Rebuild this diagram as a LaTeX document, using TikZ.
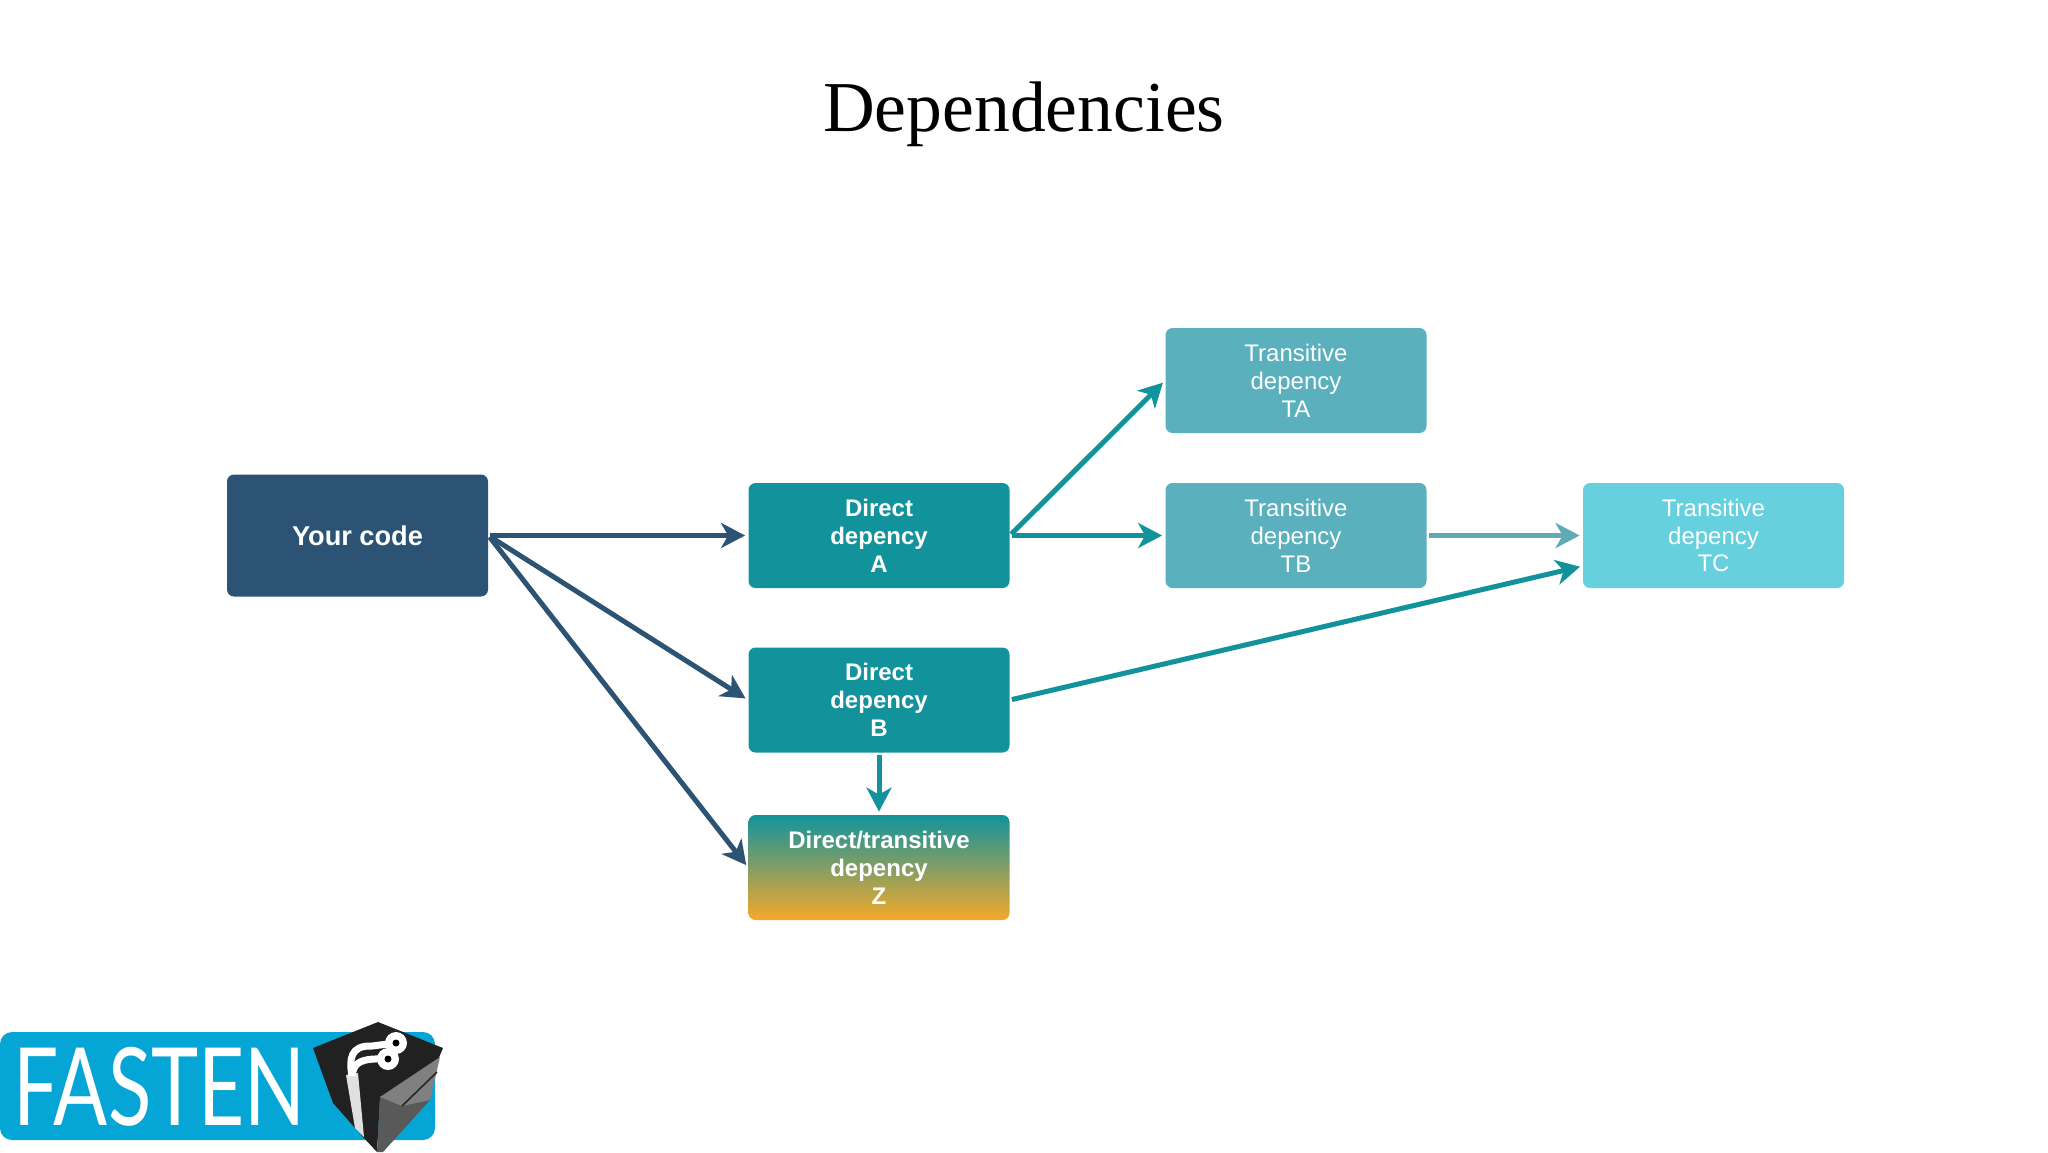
\documentclass[tikz,border=0pt]{standalone}
\usepackage{fontspec}
\usetikzlibrary{arrows.meta}
\setmainfont{Liberation Serif}
\newfontfamily\boxfont{Liberation Sans}
\newfontfamily\logofont{Lato}
\definecolor{codeblue}{HTML}{2C5373}
\definecolor{directteal}{HTML}{12939C}
\definecolor{transteal}{HTML}{5AB0BC}
\definecolor{lastteal}{HTML}{66D0DE}
\definecolor{zorange}{HTML}{F5A92B}
\definecolor{logoblue}{HTML}{05A5D6}
\tikzset{
    depbox/.style={rounded corners=3.5pt, inner sep=0pt, align=center, text=white,
        minimum width=130.5pt, minimum height=52.5pt,
        font=\boxfont\fontsize{12}{13.9}\selectfont},
    directbox/.style={depbox, fill=directteal, font=\boxfont\bfseries\fontsize{12}{13.9}\selectfont},
    transbox/.style={depbox, fill=transteal},
    dep/.style={line width=2.5pt, -{Stealth[length=12pt, width=12.5pt, inset=3.5pt]},
        shorten >=1.5pt, shorten <=1pt},
}
\begin{document}
\begin{tikzpicture}[x=0.5pt, y=-0.5pt]
    \useasboundingbox (0, 0) rectangle (2048, 1152);
    \node (title) [anchor=base, font=\fontsize{35.8}{40}\selectfont] at (1024, 131) {Dependencies};

    \node (code) [depbox, fill=codeblue, minimum height=61pt, font=\boxfont\bfseries\fontsize{13.6}{16}\selectfont] at (357.5, 535.5) {Your code};
    \node (directa) [directbox] at (879, 535.5) {Direct\\depency\\A};
    \node (directb) [directbox] at (879, 700) {Direct\\depency\\B};
    \node (directz) [directbox, fill=none, top color=directteal, bottom color=zorange, middle color=directteal!50!zorange] at (879, 867.5) {Direct/transitive\\depency\\Z};
    \node (transa) [transbox] at (1296, 380.5) {Transitive\\depency\\TA};
    \node (transb) [transbox] at (1296, 535.5) {Transitive\\depency\\TB};
    \node (transc) [transbox, fill=lastteal] at (1713.5, 535.5) {Transitive\\depency\\TC};
    \coordinate (tcin) at (1583, 566);

    \foreach \target in {directa, directb, directz} {
    \draw [dep, codeblue] (code.east) -- (\target.west);
    }
    \foreach \target in {transa, transb} {
    \draw [dep, directteal] (directa.east) -- (\target.west);
    }
    \draw [dep, directteal] (directb.south) -- (directz.north);
    \draw [dep, directteal] (directb.east) -- (tcin);
    \draw [dep, transteal!90!gray] (transb.east) -- (transc.west);

    % logo
    \fill [logoblue, rounded corners=6pt] (0, 1032) rectangle (435, 1140);
    \node (fasten) [anchor=base west, inner sep=0pt, text=white, xscale=0.74, font=\logofont\fontsize{54}{58}\selectfont] at (13, 1125) {FASTEN};
    \fill [black!87] (378, 1022) -- (443, 1048) -- (435, 1067) -- (380, 1097) -- (377, 1152) -- (363, 1137) -- (333, 1103) -- (313, 1048) -- cycle;
    \fill [black!65] (380, 1097) -- (435, 1067) -- (430, 1100) -- (383, 1152) -- (377, 1152) -- cycle;
    \fill [black!50] (380, 1097) -- (440, 1057) -- (430, 1100) -- (402, 1106) -- cycle;
    \draw [black!85, line width=0.8pt] (402, 1106) -- (437, 1072);
    \fill [black!12] (346, 1075) -- (358, 1073) -- (364, 1137) -- (355, 1128) -- cycle;
    \draw [white, line width=3.5pt] (352, 1076) .. controls (349, 1060) and (350, 1045) .. (372, 1046) -- (396, 1043);
    \draw [white, line width=3.5pt] (352, 1076) .. controls (354, 1062) and (360, 1058) .. (388, 1059);
    \fill [white] (396, 1043) circle [radius=11];
    \fill [white] (388, 1059) circle [radius=11];
    \fill [black] (396, 1043) circle [radius=3.5];
    \fill [black] (388, 1059) circle [radius=3.5];
\end{tikzpicture}
\end{document}
